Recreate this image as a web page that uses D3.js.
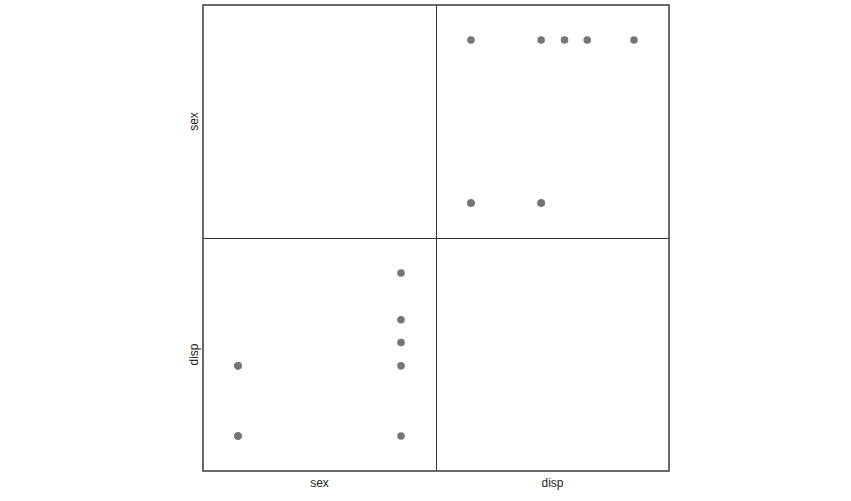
<!DOCTYPE html>
<html>
<head>
<meta charset="utf-8">
<script src="https://cdn.jsdelivr.net/npm/d3@7"></script>
<style>
  html, body { margin: 0; padding: 0; background: #fff; }
  svg { display: block; }
</style>
</head>
<body>
<svg id="chart" width="851" height="501"></svg>
<script>
// Data
const variables = ["sex", "disp"];
const sex  = [1, 1, 1, 1, 1, 0, 0, 0, 0];
const disp = [100, 199, 232, 264, 330, 100, 199, 100, 199];

const data = sex.map((s, i) => ({ sex: s, disp: disp[i] }));

const svg = d3.select("#chart");
const gLeft = 203, gTop = 5, size = 233, n = variables.length;
const pad = 35;

function xScale(v, col) {
  const ext = d3.extent(data, d => d[v]);
  const x0 = gLeft + col * size;
  return d3.scaleLinear().domain(ext).range([x0 + pad, x0 + size - pad]);
}
function yScale(v, row) {
  const ext = d3.extent(data, d => d[v]);
  const y0 = gTop + row * size;
  return d3.scaleLinear().domain(ext).range([y0 + size - pad, y0 + pad]);
}

for (let i = 0; i < n; i++) {
  for (let j = 0; j < n; j++) {
    if (i === j) continue;
    const xv = variables[j], yv = variables[i];
    const xs = xScale(xv, j), ys = yScale(yv, i);
    svg.append("g").selectAll("circle")
      .data(data)
      .join("circle")
      .attr("cx", d => xs(d[xv]))
      .attr("cy", d => ys(d[yv]))
      .attr("r", 3.8)
      .attr("fill", "#757575");
  }
}

const grid = svg.append("g").attr("stroke", "#333").attr("stroke-width", 1).attr("fill", "none");
for (let k = 1; k < n; k++) {
  grid.append("line").attr("x1", gLeft + k * size + 0.5).attr("x2", gLeft + k * size + 0.5)
    .attr("y1", gTop).attr("y2", gTop + n * size);
  grid.append("line").attr("y1", gTop + k * size + 0.5).attr("y2", gTop + k * size + 0.5)
    .attr("x1", gLeft).attr("x2", gLeft + n * size);
}
svg.append("rect")
  .attr("x", gLeft).attr("y", gTop)
  .attr("width", n * size).attr("height", n * size)
  .attr("fill", "none").attr("stroke", "#444").attr("stroke-width", 1.6);

const font = "'Liberation Sans', Arial, sans-serif";
variables.forEach((v, j) => {
  svg.append("text")
    .attr("x", gLeft + j * size + size / 2)
    .attr("y", gTop + n * size + 16)
    .attr("text-anchor", "middle")
    .attr("font-family", font).attr("font-size", 12).attr("fill", "#222")
    .text(v);
  svg.append("text")
    .attr("transform", `translate(${gLeft - 5},${gTop + j * size + size / 2}) rotate(-90)`)
    .attr("text-anchor", "middle")
    .attr("font-family", font).attr("font-size", 12).attr("fill", "#222")
    .text(v);
});
</script>
</body>
</html>
